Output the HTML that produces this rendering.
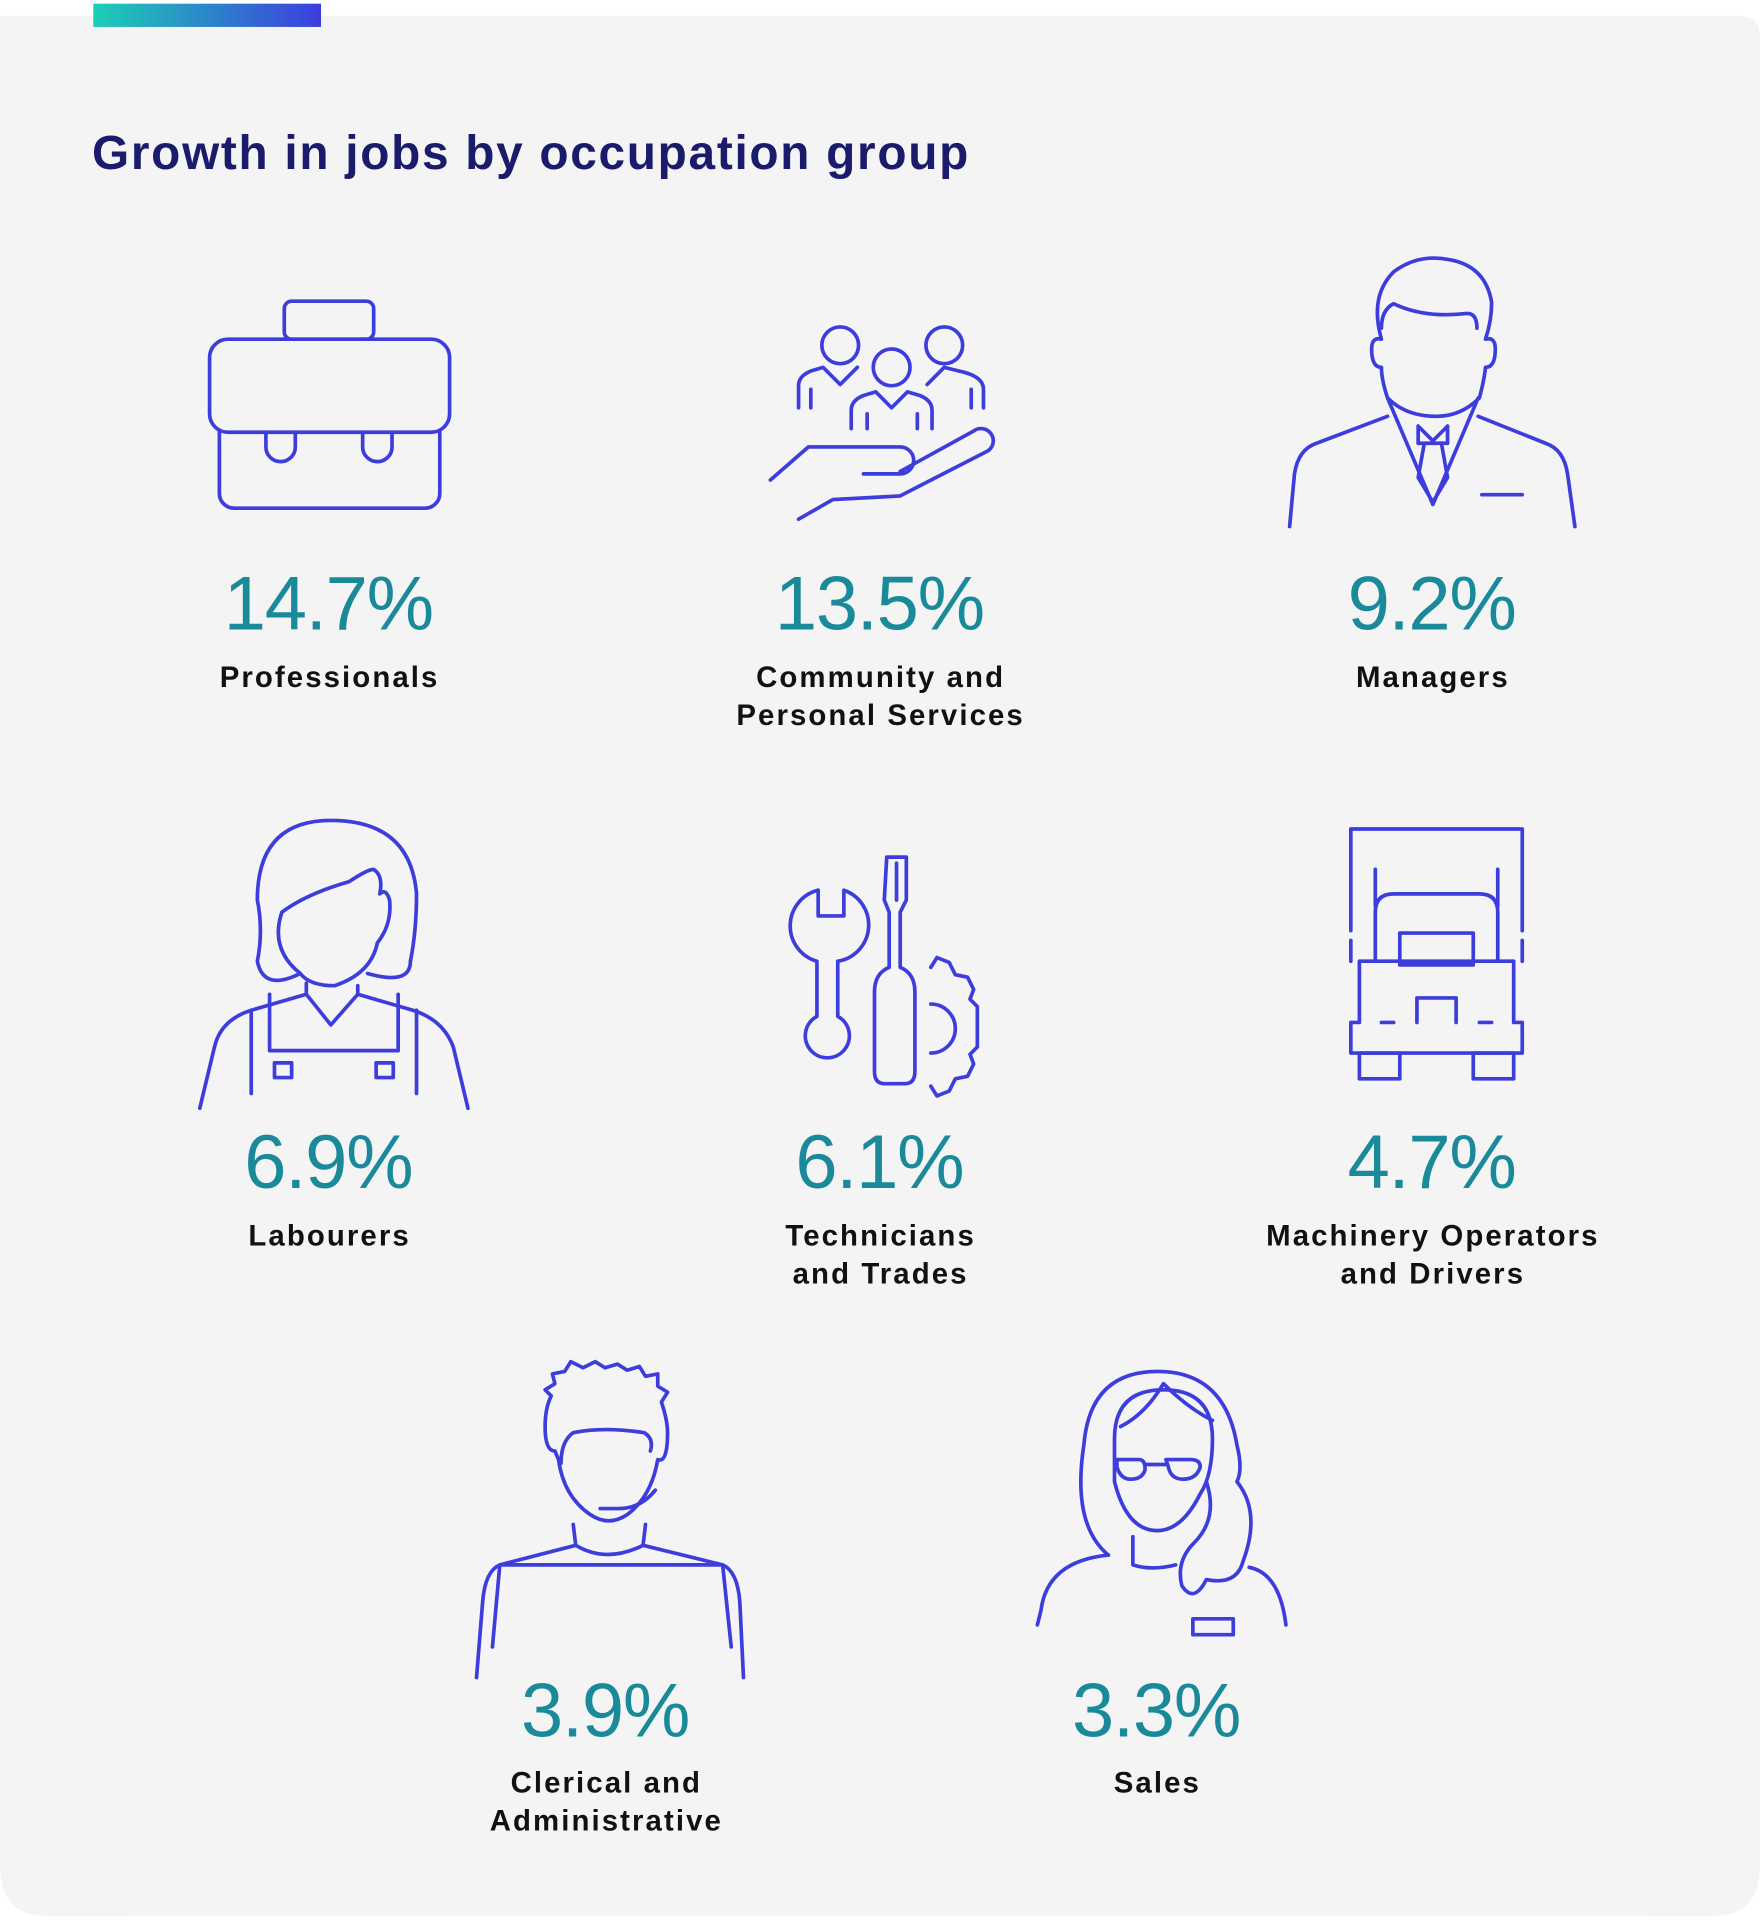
<!DOCTYPE html>
<html><head><meta charset="utf-8"><style>
html,body{margin:0;padding:0;background:#fff;}
svg{display:block;}
</style></head><body>
<svg width="1760" height="1920" viewBox="0 0 1437 1568" xmlns="http://www.w3.org/2000/svg">
<defs><linearGradient id="g" x1="0" x2="1"><stop offset="0" stop-color="#1ccfb5"/><stop offset="1" stop-color="#3d3ddf"/></linearGradient></defs>
<rect width="1437" height="1568" fill="#fff"/>
<path d="M0 13 H1420 Q1437 13 1437 30 V1525 Q1437 1565 1397 1565 H40 Q0 1565 0 1525 Z" fill="#f4f4f4"/>
<rect x="76" y="3" width="186" height="19" fill="url(#g)"/>
<text x="75" y="138" font-family="Liberation Sans, sans-serif" font-weight="bold" font-size="39" fill="#1b1b6b" letter-spacing="1.4">Growth in jobs by occupation group</text>

<g fill="none" stroke="#3d3ddb" stroke-width="3" stroke-linecap="round" stroke-linejoin="round">
<rect x="232" y="246" width="73" height="31" rx="6"/>
<rect x="179" y="330" width="180" height="85" rx="12"/>
<rect x="171" y="277" width="196" height="76" rx="15" fill="#f4f4f4"/>
<path d="M217 353 V365 a12 12 0 0 0 24 0 V353 M296 353 V365 a12 12 0 0 0 24 0 V353"/>
<circle cx="686" cy="282" r="15"/><circle cx="771" cy="282" r="15"/><circle cx="728" cy="300" r="15"/>
<path d="M652 333 V315 q0-8 10-12 l10-3 l14 14 l14-14"/>
<path d="M757 314 l14-14 l12 3 q20 4 20 15 V333 M662 318 V333 M793 318 V333"/>
<path d="M695 350 V335 q0-8 10-12 l10-3 l13 13 l13-13 l10 3 q10 4 10 12 V350 M708 338 V350 M749 338 V350"/>
<path d="M629 392 L660 365 H735 a11 11 0 0 1 0 22 H705 M735 385 L795 352 a10 10 0 0 1 12 16 L735 405 L680 408 L652 424"/>
<path d="M1133 325 q-5-15-5-25 q-8 0-8-15 q0-10 8-8 q-10-35 10-55 q20-15 45-10 q30 5 35 35 q0 15-5 30 q8-2 8 8 q0 15-8 15 q-1 10-5 25 q-15 15-35 15 q-25 0-40-15 Z"/>
<path d="M1128 268 q0-15 10-20 q25 12 60 8 q8 0 8 12"/>
<path d="M1133 325 L1170 412 L1207 325 M1158 348 L1170 360 L1182 348 M1163 362 L1158 390 L1170 410 L1182 390 L1177 362 M1133 340 L1075 362 q-15 5-18 25 L1053 430 M1207 340 L1262 362 q15 5 18 25 L1286 430 M1210 404 H1243 M1158 348 V362 H1182 V348"/>
<path d="M245 795 q-25-20-15-50 q20-15 55-25 q15-10 20-10 q8 5 5 20 q5-5 8 5 q2 20-10 35 q-5 25-35 35 q-20 0-28-10 Z"/>
<path d="M245 795 q-30 15-35-10 q5-25 0-50 q0-65 60-65 q65 0 70 60 q0 30-5 55 q0 20-35 10"/>
<path d="M250 803 V812 l20 25 l22-25 V805 M250 812 L205 825 q-25 8-30 30 L163 905 M292 812 L337 825 q25 8 33 30 L382 905 M220 812 V858 H325 V812 M205 825 V893 M340 825 V893"/>
<rect x="224" y="868" width="14" height="12"/><rect x="307" y="868" width="14" height="12"/>
<path d="M667 785 V830 a18 18 0 1 0 17 0 V785 a30 30 0 0 0 5-58 V748 H668 V727 a30 30 0 0 0 -1 58 Z"/>
<path d="M724 700 H740 V735 L735 745 V790 q12 5 12 20 V875 q0 10-8 10 H722 q-8 0-8-10 V810 q0-15 12-20 V745 L722 735 Z M732 705 V735"/>
<path d="M760 790 l5-8 l10 4 l5 10 l10 2 l5 10 l-3 8 l6 6 V855 l-6 6 l3 8 l-5 10 l-10 2 l-5 10 l-10 4 l-5-8 M760 820 a20 20 0 0 1 0 40"/>
<path d="M1103 760 V677 H1243 V760 M1103 768 V785 M1243 768 V785 M1123 710 V740 M1223 710 V740"/>
<path d="M1123 785 V745 q0-15 15-15 H1208 q15 0 15 15 V785"/>
<rect x="1143" y="762" width="60" height="26"/>
<path d="M1110 785 H1236 V835 H1243 V860 H1103 V835 H1110 Z M1157 835 V815 H1189 V835 M1128 835 H1138 M1208 835 H1218"/>
<rect x="1110" y="860" width="33" height="21"/><rect x="1203" y="860" width="33" height="21"/>
<path d="M453 1185 q-8 0-8-20 q0-15 5-25 l-5-5 l8-5 l-2-8 l10-2 l5-8 l10 5 l10-5 l8 5 l10-3 l8 5 l10-3 l5 8 l10-2 l0 10 l8 5 l-5 8 q5 15 5 25 q0 25-8 22 q-5 30-25 45 q-15 10-30 0 q-22-15-26-45 Z"/>
<path d="M458 1195 q0-18 10-25 q25-5 58 0 q8 5 5 15 M490 1232 H505 q18 0 30-15"/>
<path d="M468 1245 L470 1262 L408 1278 H590 L525 1262 L527 1245 M470 1262 q25 15 55 0 M408 1278 q-12 5-14 30 L389 1370 M590 1278 q12 5 14 30 L607 1370 M408 1278 L402 1345 M590 1278 L597 1345"/>
<path d="M910 1175 q0-40 40-40 q40 0 40 40 q0 30-10 45 q-15 30-35 30 q-25 0-35-40 Z"/>
<path d="M915 1165 q20-10 35-35 q20 20 40 30"/>
<path d="M905 1270 q-30-25-20-90 q5-60 60-60 q55 0 65 60 q5 20 0 30 q20 25 5 65 q-5 20-30 15 q-10 20-20 5 q-5-20 10-35 q20-20 10-50"/>
<path d="M925 1255 V1278 q15 5 35 0 M905 1270 q-50 5-55 45 L847 1327 M1020 1280 q25 5 30 47"/>
<path d="M912 1192 H930 q5 0 5 8 q-2 8-12 8 q-8 0-11-10 Z M952 1192 H972 q8 0 8 6 q-3 10-14 10 q-10 0-12-10 Z M935 1196 H952"/>
<rect x="974" y="1322" width="33" height="13"/>
</g>

<g font-family="Liberation Sans, sans-serif" text-anchor="middle">
<g font-size="62" fill="#1a8a9a" letter-spacing="-1">
<text x="268" y="514">14.7%</text><text x="718" y="514">13.5%</text><text x="1169" y="514">9.2%</text>
<text x="268" y="970">6.9%</text><text x="718" y="970">6.1%</text><text x="1169" y="970">4.7%</text>
<text x="494" y="1418">3.9%</text><text x="944" y="1418">3.3%</text>
</g>
<g font-size="24" font-weight="bold" fill="#111" letter-spacing="1.7">
<text x="269" y="561">Professionals</text>
<text x="719" y="561">Community and</text><text x="719" y="592">Personal Services</text>
<text x="1170" y="561">Managers</text>
<text x="269" y="1017">Labourers</text>
<text x="719" y="1017">Technicians</text><text x="719" y="1048">and Trades</text>
<text x="1170" y="1017">Machinery Operators</text><text x="1170" y="1048">and Drivers</text>
<text x="495" y="1464">Clerical and</text><text x="495" y="1495">Administrative</text>
<text x="945" y="1464">Sales</text>
</g>
</g>
</svg>
</body></html>
